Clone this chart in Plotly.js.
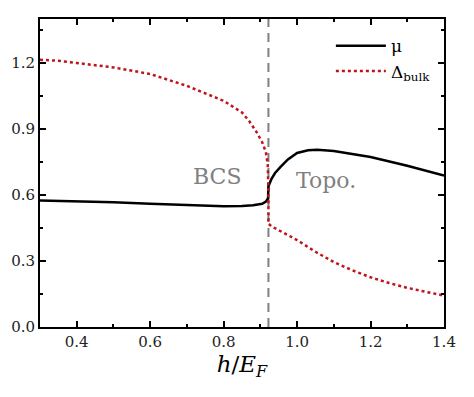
<!DOCTYPE html>
<html><head><meta charset="utf-8">
<script src="https://cdn.plot.ly/plotly-3.0.1.min.js"></script>
<style>html,body{margin:0;padding:0;background:#fff}#chart{width:474px;height:397px}</style>
</head><body><div id="chart"></div>
<script>
const muX = [0.3, 0.4, 0.5, 0.6, 0.7, 0.8, 0.85, 0.88, 0.905, 0.915, 0.921, 0.922, 0.93, 0.94, 0.955, 0.975, 1.0, 1.03, 1.055, 1.1, 1.2, 1.3, 1.4];
const muY = [0.575, 0.572, 0.567, 0.560, 0.553, 0.549, 0.550, 0.553, 0.560, 0.570, 0.585, 0.640, 0.672, 0.700, 0.728, 0.762, 0.791, 0.803, 0.806, 0.800, 0.773, 0.733, 0.688];
const dX = [0.3, 0.35, 0.4, 0.5, 0.6, 0.7, 0.8, 0.85, 0.87, 0.89, 0.905, 0.915, 0.92, 0.922, 0.922, 0.93, 0.95, 0.975, 1.0, 1.05, 1.1, 1.15, 1.2, 1.25, 1.3, 1.35, 1.4];
const dY = [1.215, 1.21, 1.20, 1.18, 1.15, 1.096, 1.028, 0.975, 0.935, 0.885, 0.84, 0.795, 0.74, 0.62, 0.47, 0.458, 0.44, 0.418, 0.395, 0.342, 0.295, 0.258, 0.226, 0.200, 0.178, 0.160, 0.143];
const hc = 0.922;
const serif = 'DejaVu Serif';

const traces = [
  {x: [hc, hc], y: [0, 1.4], mode: 'lines', line: {color: '#808080', width: 2, dash: '9px,6px'}, showlegend: false, hoverinfo: 'skip'},
  {x: muX, y: muY, mode: 'lines', name: 'μ', line: {color: '#000000', width: 2.5}},
  {x: dX, y: dY, mode: 'lines', name: 'Δ<sub>bulk</sub>', line: {color: '#c0141c', width: 2.5, dash: 'dot'}}
];

const layout = {
  width: 474, height: 397,
  margin: {l: 40, r: 30, t: 19, b: 70},
  font: {family: serif, size: 15},
  paper_bgcolor: '#fff', plot_bgcolor: '#fff',
  showlegend: true,
  legend: {x: 0.72, y: 0.97, xanchor: 'left', yanchor: 'top', bgcolor: 'rgba(0,0,0,0)',
           font: {family: serif, size: 17, color: '#000'}, itemwidth: 50, tracegroupgap: 4},
  xaxis: {
    showgrid: false, zeroline: false, showline: true, linecolor: '#000', linewidth: 2,
    mirror: 'allticks', ticks: 'inside', ticklen: 6, tickwidth: 2, tickcolor: '#000',
    tickfont: {family: serif, size: 15, color: '#222'},
    range: [0.3, 1.4], dtick: 0.2, tick0: 0.4, tickformat: '.1f',
    minor: {ticks: 'inside', ticklen: 3, dtick: 0.1, tickcolor: '#000', tickwidth: 2},
    title: {text: '<i>h</i>/<i>E</i><sub><i>F</i></sub>', font: {family: serif, size: 23, color: '#000'}, standoff: 6}
  },
  yaxis: {
    showgrid: false, zeroline: false, showline: true, linecolor: '#000', linewidth: 2,
    mirror: 'allticks', ticks: 'inside', ticklen: 6, tickwidth: 2, tickcolor: '#000',
    tickfont: {family: serif, size: 15, color: '#222'},
    range: [0, 1.4], dtick: 0.3, tick0: 0, tickformat: '.1f',
    minor: {ticks: 'inside', ticklen: 3, dtick: 0.15, tickcolor: '#000', tickwidth: 2}
  },
  annotations: [
    {x: 0.782, y: 0.684, xref: 'x', yref: 'y', text: 'BCS', showarrow: false, font: {family: serif, size: 22, color: '#808080'}},
    {x: 1.079, y: 0.666, xref: 'x', yref: 'y', text: 'Topo.', showarrow: false, font: {family: serif, size: 22, color: '#808080'}}
  ]
};

Plotly.newPlot('chart', traces, layout, {displayModeBar: false});
</script>
</body></html>
